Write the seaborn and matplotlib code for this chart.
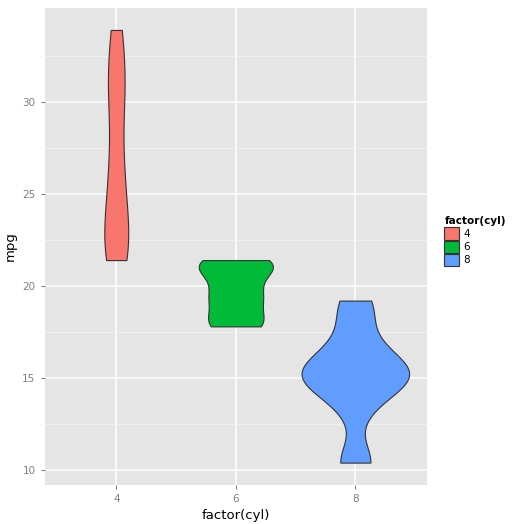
import pandas as pd
import matplotlib.pyplot as plt
import seaborn as sns

# mtcars mpg grouped by cylinders
mpg_4 = [22.8, 24.4, 22.8, 32.4, 30.4, 33.9, 21.5, 27.3, 26.0, 30.4, 21.4]
mpg_6 = [21.0, 21.0, 21.4, 18.1, 19.2, 17.8, 19.7]
mpg_8 = [18.7, 14.3, 16.4, 17.3, 15.2, 10.4, 10.4, 14.7, 15.5, 15.2, 13.3, 19.2, 15.8, 15.0]
cyl_levels = ['4', '6', '8']
colors = ['#F8766D', '#00BA38', '#619CFF']
# max violin width per group
group_widths = [0.2, 0.62, 0.9]

df = pd.DataFrame({
    'cyl': ['4'] * len(mpg_4) + ['6'] * len(mpg_6) + ['8'] * len(mpg_8),
    'mpg': mpg_4 + mpg_6 + mpg_8,
})

fig = plt.figure(figsize=(5.24, 5.24), dpi=100)
ax = fig.add_axes([0.085, 0.075, 0.73, 0.91])
ax.set_facecolor('#E5E5E5')

for lvl, w in zip(cyl_levels, group_widths):
    sns.violinplot(data=df[df['cyl'] == lvl], x='cyl', y='mpg', hue='cyl',
                   order=cyl_levels, hue_order=cyl_levels, palette=colors,
                   cut=0, inner=None, density_norm='width', bw_adjust=0.7,
                   width=w, linewidth=0.8, linecolor='#333333', saturation=1,
                   legend=False, dodge=False, ax=ax)

ax.set_ylim(9.2, 35.1)
ax.set_yticks([10, 15, 20, 25, 30])
ax.set_yticks([12.5, 17.5, 22.5, 27.5, 32.5], minor=True)
ax.set_xlim(-0.6, 2.6)
ax.grid(True, which='major', color='white', linewidth=1.1)
ax.grid(True, which='minor', axis='y', color='#F2F2F2', linewidth=0.6)
ax.set_axisbelow(True)
for s in ax.spines.values():
    s.set_visible(False)
ax.tick_params(which='both', length=3, color='#7F7F7F', labelcolor='#7F7F7F', labelsize=7.5)
ax.tick_params(which='minor', length=0)
ax.set_xlabel('factor(cyl)', fontsize=9.5)
ax.set_ylabel('mpg', fontsize=9.5)

handles = [plt.Rectangle((0, 0), 1, 1, facecolor=c, edgecolor='#333333', linewidth=0.8)
           for c in colors]
leg = fig.legend(handles, cyl_levels, title='factor(cyl)', loc='center left',
                 bbox_to_anchor=(0.83, 0.54), frameon=False, fontsize=7.5,
                 title_fontsize=7.5, handlelength=1.4, handleheight=1.4,
                 labelspacing=0.1, handletextpad=0.4)
leg.get_title().set_fontweight('bold')
leg._legend_box.align = 'left'

fig.savefig('out.png', dpi=100)
